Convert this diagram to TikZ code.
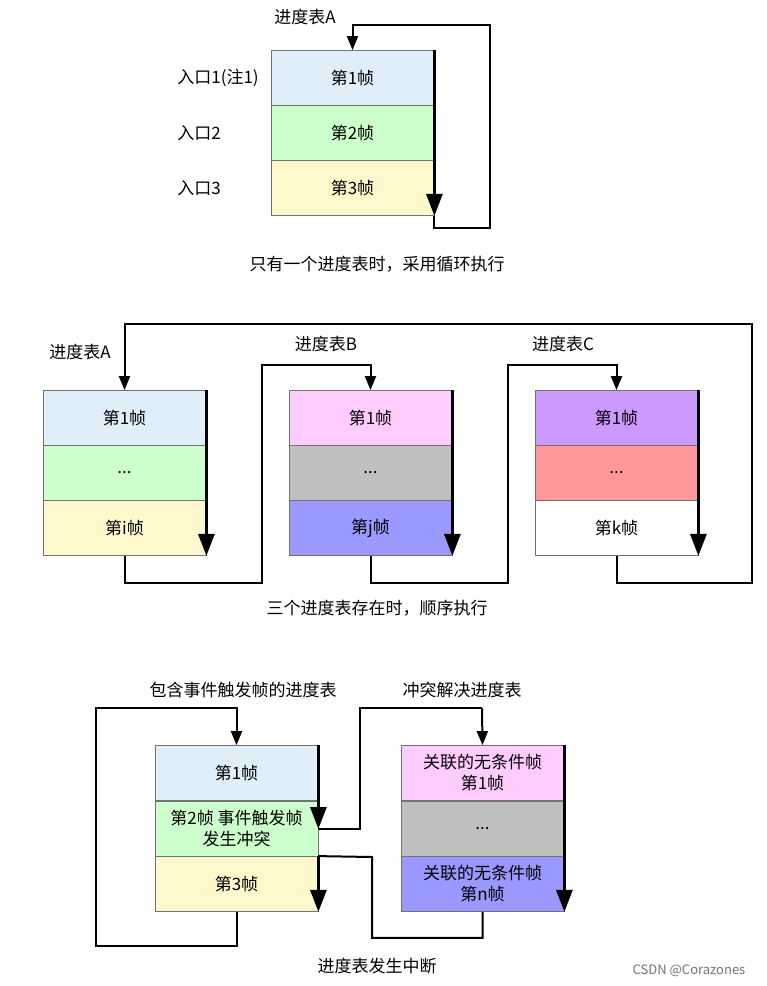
\documentclass[tikz,border=0pt]{standalone}
\usepackage{fontspec}
\setmainfont{Noto Sans CJK SC}
\usetikzlibrary{arrows.meta}
\definecolor{cblue}{HTML}{E0EEFA}
\definecolor{cgreen}{HTML}{CCFFCC}
\definecolor{cyel}{HTML}{FFF8CC}
\definecolor{cpink}{HTML}{FFCCFF}
\definecolor{cgrey}{HTML}{C0C0C0}
\definecolor{cviol}{HTML}{9999FF}
\definecolor{cpurp}{HTML}{CC99FF}
\definecolor{csalm}{HTML}{FF9999}
\tikzset{
 row/.style={draw=black!55, line width=0.8pt, minimum width=163pt, minimum height=55pt, inner sep=0pt, font=\fontsize{17}{21}\selectfont, align=center},
 lbl/.style={font=\fontsize{17}{21}\selectfont, inner sep=0pt},
 conn/.style={line width=2pt, -{Triangle[length=14pt,width=11pt]}},
 line/.style={line width=2pt},
 flow/.style={line width=3pt, -{Triangle[length=22pt,width=16pt]}},
}
\begin{document}
\begin{tikzpicture}[x=1pt,y=-1pt]
\useasboundingbox (0,0) rectangle (767,986);
% top
\node[row,fill=cblue] (t1) at (352.5,78) {第1帧};
\node[row,fill=cgreen] (t2) at (352.5,133) {第2帧};
\node[row,fill=cyel] (t3) at (352.5,188) {第3帧};
\draw[flow] (t1.north east) -- (t3.south east);
\node[lbl] (tl) at (305,17) {进度表A};
\draw[conn] (t3.south east) -- ++(0,12) -| (490,25) -| (t1.north);
\node[lbl] (e1) at (218,78) {入口1(注1)};
\node[lbl] (e2) at (199,133) {入口2};
\node[lbl] (e3) at (199,188) {入口3};
\node[lbl] (tc) at (377,264) {只有一个进度表时，采用循环执行};
% middle
\node[row,fill=cblue] (a1) at (124.5,418) {第1帧};
\node[row,fill=cgreen] (a2) at (124.5,473) {...};
\node[row,fill=cyel] (a3) at (124.5,528) {第i帧};
\node[row,fill=cpink] (b1) at (370.5,418) {第1帧};
\node[row,fill=cgrey] (b2) at (370.5,473) {...};
\node[row,fill=cviol] (b3) at (370.5,528) {第j帧};
\node[row,fill=cpurp] (c1) at (616.5,418) {第1帧};
\node[row,fill=csalm] (c2) at (616.5,473) {...};
\node[row,fill=white] (c3) at (616.5,528) {第k帧};
\draw[flow] (a1.north east) -- (a3.south east);
\draw[flow] (b1.north east) -- (b3.south east);
\draw[flow] (c1.north east) -- (c3.south east);
\draw[conn] (c3.south) -- ++(0,27) -| (752,324) -| (a1.north);
\draw[conn] (a3.south) -- ++(0,27) -| (262,365) -| (b1.north);
\draw[conn] (b3.south) -- ++(0,27) -| (508,365) -| (c1.north);
\node[lbl] (la) at (80,352) {进度表A};
\node[lbl] (lb) at (326,344) {进度表B};
\node[lbl] (lc) at (563,344) {进度表C};
\node[lbl] (mc) at (377,608) {三个进度表存在时，顺序执行};
% bottom
\node[row,fill=cblue] (p1) at (236.5,773) {第1帧};
\node[row,fill=cgreen] (p2) at (236.5,829) {第2帧 事件触发帧\\发生冲突};
\node[row,fill=cyel] (p3) at (236.5,884) {第3帧};
\node[row,fill=cpink] (q1) at (482.5,773) {关联的无条件帧\\第1帧};
\node[row,fill=cgrey] (q2) at (482.5,829) {...};
\node[row,fill=cviol] (q3) at (482.5,884) {关联的无条件帧\\第n帧};
\draw[flow] (p1.north east) -- (p2.east);
\draw[flow] (q1.north east) -- (q3.south east);
\draw[conn] (p3.south) -- ++(0,34) -| (96,708) -| (p1.north);
\draw[line] (p2.east) -- ++(42,0) |- (482,708);
\draw[conn] (482,708) -- (q1.north);
\draw[line] (q3.south) -- ++(0,26) -| (372,857) -- (p3.north east);
\draw[flow] (p3.north east) -- (p3.south east);
\node[lbl] (lp) at (243,690) {包含事件触发帧的进度表};
\node[lbl] (lq) at (462,690) {冲突解决进度表};
\node[lbl] (bc) at (377,966) {进度表发生中断};
\node[font=\fontsize{13}{15}\selectfont, text=black!55, inner sep=0pt] (wm) at (689,971) {CSDN @Corazones};
\end{tikzpicture}
\end{document}
